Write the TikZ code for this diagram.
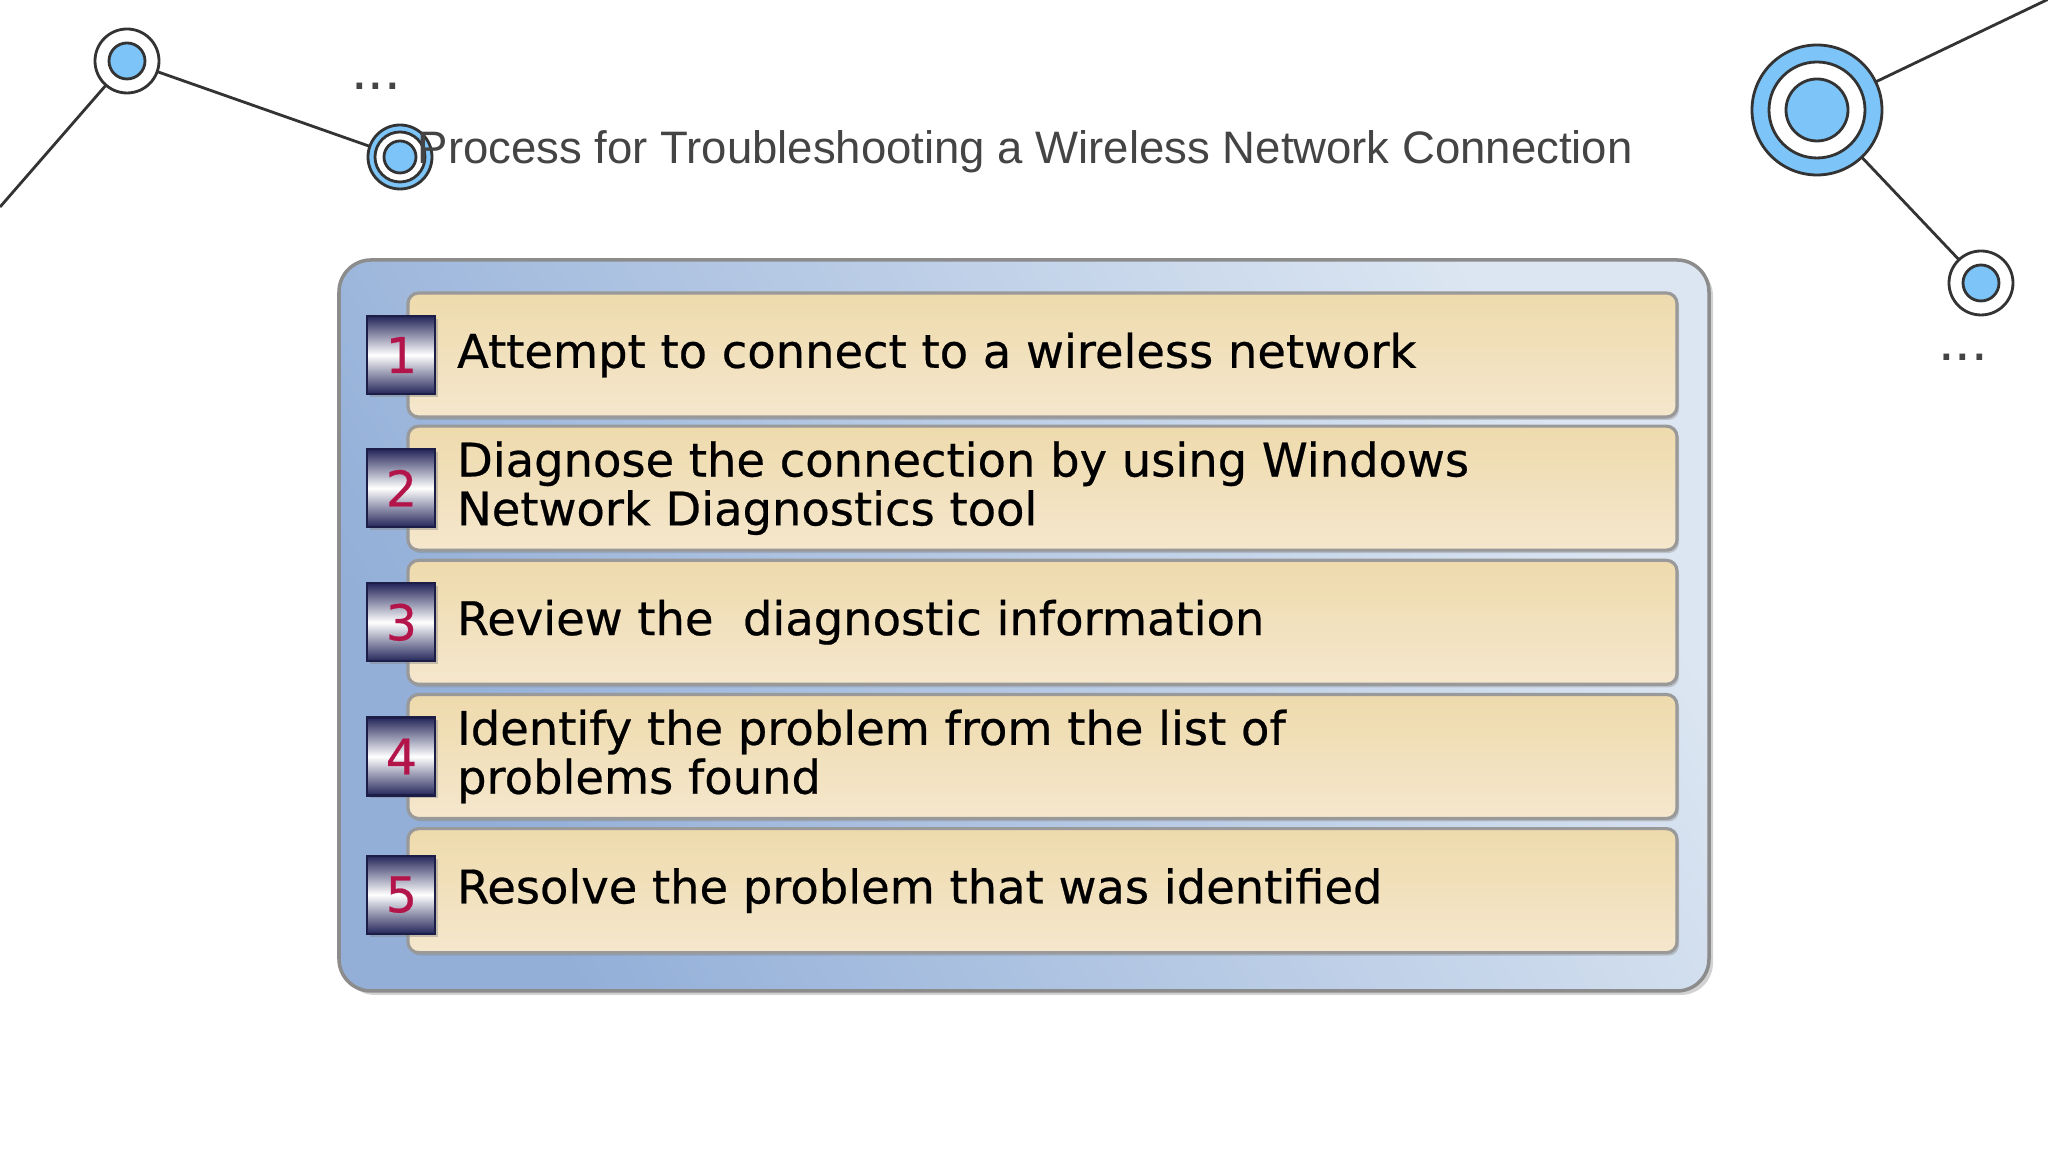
\documentclass[tikz,border=0pt]{standalone}
\usepackage{fontspec}
\setmainfont{DejaVu Sans}[FakeBold=0.5]
\newfontfamily\titlefont{Liberation Sans}
\usetikzlibrary{positioning,shadows}

\definecolor{dotblue}{HTML}{7DC4F8}
\definecolor{linegray}{HTML}{333333}
\definecolor{titlegray}{HTML}{444444}
\definecolor{panelblueA}{HTML}{93AFD8}
\definecolor{panelblueB}{HTML}{DCE6F2}
\definecolor{tanA}{HTML}{EEDAAC}
\definecolor{tanB}{HTML}{F5E7CD}
\definecolor{navy}{HTML}{24265A}
\definecolor{crimson}{HTML}{B3154A}

\tikzset{
  ring/.style={circle,draw=linegray,line width=0.8pt,fill=white,inner sep=0pt,outer sep=0pt},
  bluering/.style={ring,fill=dotblue},
  stepbox/.style={rectangle,rounded corners=3pt,draw=black!40,line width=0.9pt,
    top color=tanA,bottom color=tanB,minimum width=12.69cm,minimum height=1.24cm,
    inner sep=0pt,drop shadow={shadow xshift=0.02cm,shadow yshift=-0.03cm,opacity=0.35}},
  numbox/.style={rectangle,draw=navy!80!black,line width=0.6pt,
    top color=navy,bottom color=navy,middle color=white,
    minimum width=0.68cm,minimum height=0.78cm,inner sep=0pt,
    text=crimson,font=\fontsize{14}{14}\selectfont,
    drop shadow={shadow xshift=0.03cm,shadow yshift=-0.03cm,opacity=0.4}},
  steptext/.style={anchor=west,align=left,inner sep=0pt,text=black,
    font=\fontsize{13.2}{13.9}\selectfont},
  dots/.style={text=titlegray,font=\titlefont\fontsize{17}{17}\selectfont,inner sep=0pt}
}

\begin{document}
\begin{tikzpicture}
  \useasboundingbox[fill=white] (0,0) rectangle (20.48,11.52);

  % network decoration, top left
  \coordinate (e1) at (0,9.45);
  \node[ring,minimum size=0.64cm] (n1) at (1.27,10.91) {};
  \node[bluering,minimum size=0.36cm] at (n1) {};
  \node[bluering,minimum size=0.64cm] (n2) at (4.00,9.95) {};
  \node[ring,minimum size=0.50cm] at (n2) {};
  \node[bluering,minimum size=0.32cm] at (n2) {};
  \draw[linegray,line width=0.8pt] (e1) -- (n1) (n1) -- (n2);
  \node[dots] (d1) at (3.76,10.66) {...};

  % network decoration, top right
  \coordinate (e2) at (20.55,11.56);
  \node[bluering,minimum size=1.30cm] (n3) at (18.17,10.42) {};
  \node[ring,minimum size=0.96cm] at (n3) {};
  \node[bluering,minimum size=0.62cm] at (n3) {};
  \node[ring,minimum size=0.64cm] (n4) at (19.81,8.69) {};
  \node[bluering,minimum size=0.36cm] at (n4) {};
  \draw[linegray,line width=0.8pt] (e2) -- (n3) (n3) -- (n4);
  \node[dots] (d2) at (19.63,7.945) {...};

  % title
  \node[anchor=west,inner sep=0pt,text=titlegray,font=\titlefont\fontsize{12.95}{14}\selectfont]
    (title) at (4.17,10.00) {Process for Troubleshooting a Wireless Network Connection};

  % panel
  \draw[rounded corners=0.32cm,draw=black!45,line width=1pt,
    left color=panelblueA,right color=panelblueB,shading angle=120,
    drop shadow={shadow xshift=0.04cm,shadow yshift=-0.04cm,opacity=0.35}]
    (3.39,1.61) rectangle (17.09,8.92);

  % steps
  \node[stepbox] (s1) at (10.425,7.97) {};
  \node[stepbox] (s2) [below=0.06cm of s1] {};
  \node[stepbox] (s3) [below=0.07cm of s2] {};
  \node[stepbox] (s4) [below=0.07cm of s3] {};
  \node[stepbox] (s5) [below=0.07cm of s4] {};

  \node[numbox] (b1) at ([xshift=-0.05cm]s1.west) {1};
  \node[numbox] (b2) at ([xshift=-0.05cm]s2.west) {2};
  \node[numbox] (b3) at ([xshift=-0.05cm]s3.west) {3};
  \node[numbox] (b4) at ([xshift=-0.05cm]s4.west) {4};
  \node[numbox] (b5) at ([xshift=-0.05cm,yshift=-0.04cm]s5.west) {5};

  \node[steptext] (t1) [right=0.50cm of s1.west] {Attempt to connect to a wireless network};
  \node[steptext] (t2) [right=0.50cm of s2.west] {Diagnose the connection by using Windows\\Network Diagnostics tool};
  \node[steptext] (t3) [right=0.50cm of s3.west] {Review the~ diagnostic information};
  \node[steptext] (t4) [right=0.50cm of s4.west] {Identify the problem from the list of\\problems found};
  \node[steptext] (t5) [right=0.50cm of s5.west] {Resolve the problem that was identified};
\end{tikzpicture}
\end{document}
